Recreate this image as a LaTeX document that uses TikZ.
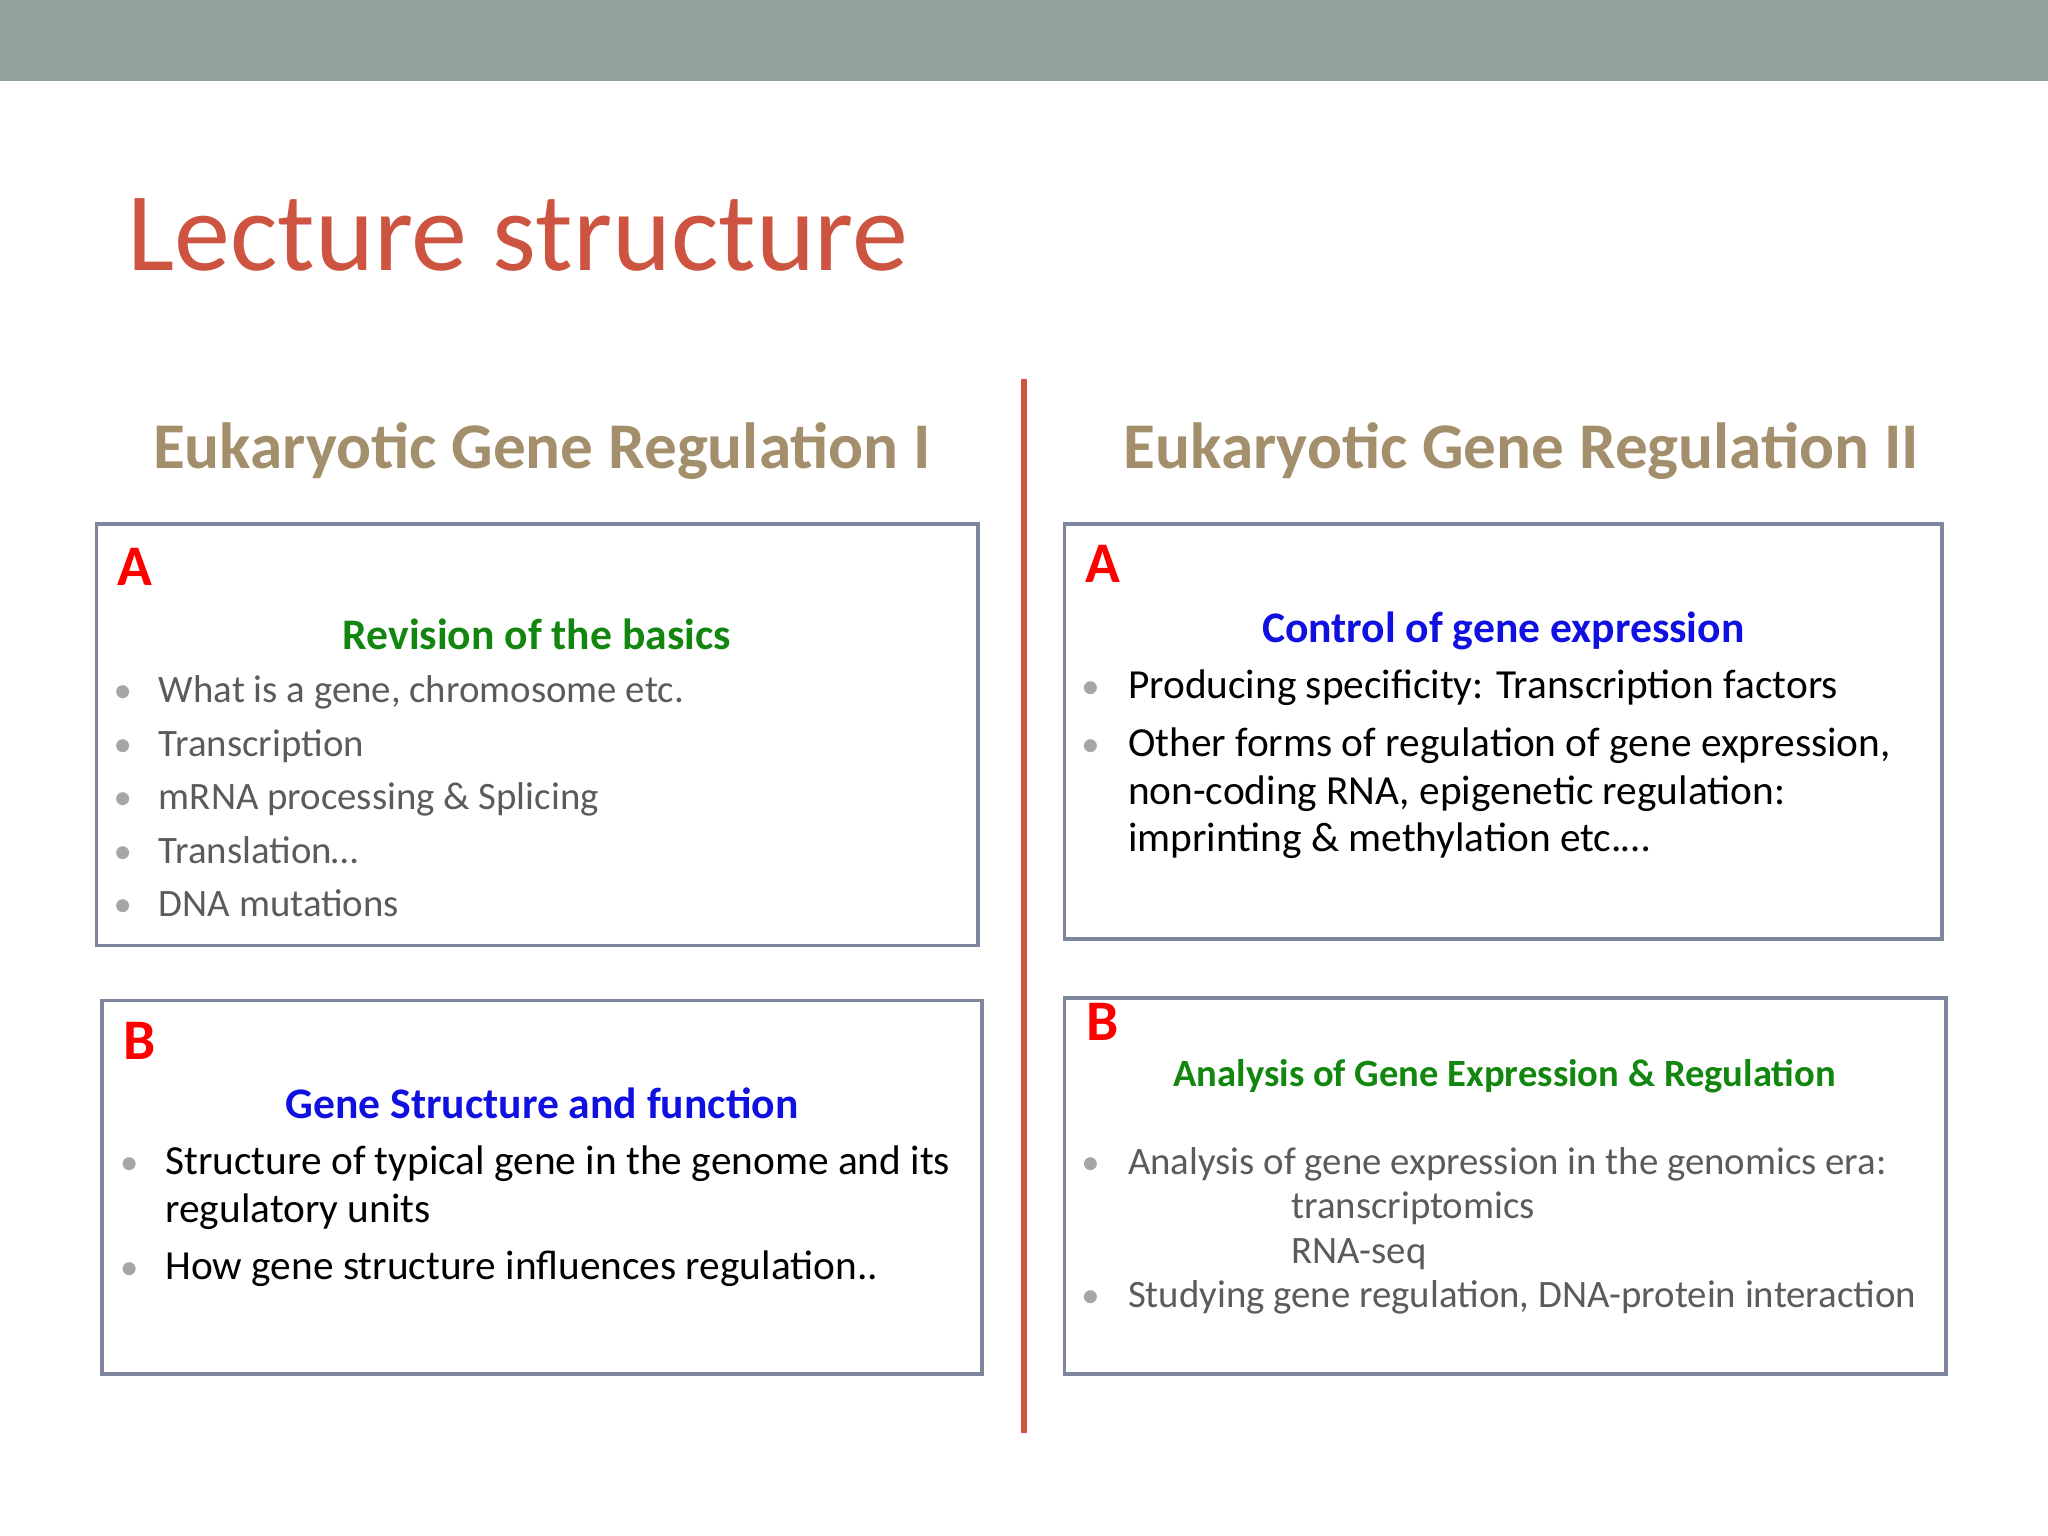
\documentclass[tikz,border=0pt]{standalone}
\usepackage{fontspec}
\setmainfont{Carlito}
\definecolor{bar}{HTML}{91A39A}
\definecolor{ttl}{HTML}{CD5440}
\definecolor{tan}{HTML}{A38F6C}
\definecolor{bx}{HTML}{7D869C}
\definecolor{grn}{HTML}{13860F}
\definecolor{blu}{HTML}{1010E0}
\definecolor{gtx}{HTML}{5E5A58}
\definecolor{vline}{HTML}{CD5440}
\begin{document}
\begin{tikzpicture}[x=0.01cm,y=-0.01cm,
  box/.style={draw=bx,line width=0.8pt},
  lbl/.style={anchor=base west,inner sep=0,text=red,font=\bfseries\fontsize{12.5}{14}\selectfont},
  hd/.style={anchor=base,inner sep=0,font=\bfseries\fontsize{9.5}{12}\selectfont},
  it/.style={anchor=base west,inner sep=0,font=\fontsize{8.45}{11}\selectfont},
  itb/.style={anchor=base west,inner sep=0,font=\fontsize{9}{11}\selectfont},
  bul/.style={anchor=base,inner sep=0,text=gray!70,font=\fontsize{8}{10}\selectfont}]
\useasboundingbox (0,0) rectangle (1568,1176);
\fill[bar] (0,0) rectangle (1568,62);
\node[anchor=base west,inner sep=0,text=ttl,font=\fontsize{24.4}{30}\selectfont] (title) at (97,207) {Lecture structure};
\node[anchor=base,inner sep=0,text=tan,font=\bfseries\fontsize{14.2}{19}\selectfont] (h1) at (415,359) {Eukaryotic Gene Regulation I};
\node[anchor=base,inner sep=0,text=tan,font=\bfseries\fontsize{14.2}{19}\selectfont] (h2) at (1165,359) {Eukaryotic Gene Regulation II};
\draw[vline,line width=1.2pt] (784,290) coordinate (v1) -- (784,1097) coordinate (v2);
% boxes
\draw[box] (74,401) rectangle (749,724);
\draw[box] (78,766) rectangle (752,1052);
\draw[box] (815,401) rectangle (1487,719);
\draw[box] (815,764) rectangle (1490,1052);
% left A
\node[lbl] (laA) at (89,448) {A};
\node[hd,text=grn] (lah) at (411,497) {Revision of the basics};
\foreach \t [count=\i] in {{What is a gene, chromosome etc.},Transcription,mRNA processing \& Splicing,Translation…,DNA mutations}{
  \node[bul] (lb\i) at (94,538+41*\i-41) {•};
  \node[it,text=gtx] (li\i) at (121,538+41*\i-41) {\t};
}
% left B
\node[lbl] (lbB) at (94,811) {B};
\node[hd,text=blu] (lbh) at (415,856) {Gene Structure and function};
\node[bul] (lbb1) at (99,899) {•};
\node[itb] (lbi1) at (126,899) {Structure of typical gene in the genome and its};
\node[itb] (lbi1b) at (126,936) {regulatory units};
\node[bul] (lbb2) at (99,980) {•};
\node[itb] (lbi2) at (126,980) {How gene structure influences regulation..};
% right A
\node[lbl] (raA) at (830,446) {A};
\node[hd,text=blu] (rah) at (1151,492) {Control of gene expression};
\node[bul] (rab1) at (835,535) {•};
\node[itb] (rai1) at (863,535) {Producing specificity: Transcription factors};
\node[bul] (rab2) at (835,579) {•};
\node[itb] (rai2) at (863,579) {Other forms of regulation of gene expression,};
\node[itb] (rai2b) at (863,616) {non-coding RNA, epigenetic regulation:};
\node[itb] (rai2c) at (863,652) {imprinting \& methylation etc.…};
% right B
\node[lbl] (rbB) at (831,797) {B};
\node[hd,text=grn,font=\bfseries\fontsize{8.4}{11}\selectfont] (rbh) at (1152,832) {Analysis of Gene Expression \& Regulation};
\node[bul] (rbb1) at (835,899) {•};
\node[it,text=gtx] (rbi1) at (863,899) {Analysis of gene expression in the genomics era:};
\node[it,text=gtx] (rbi1b) at (988,933) {transcriptomics};
\node[it,text=gtx] (rbi1c) at (988,967) {RNA-seq};
\node[bul] (rbb2) at (835,1001) {•};
\node[it,text=gtx] (rbi2) at (863,1001) {Studying gene regulation, DNA-protein interaction};
\end{tikzpicture}
\end{document}
